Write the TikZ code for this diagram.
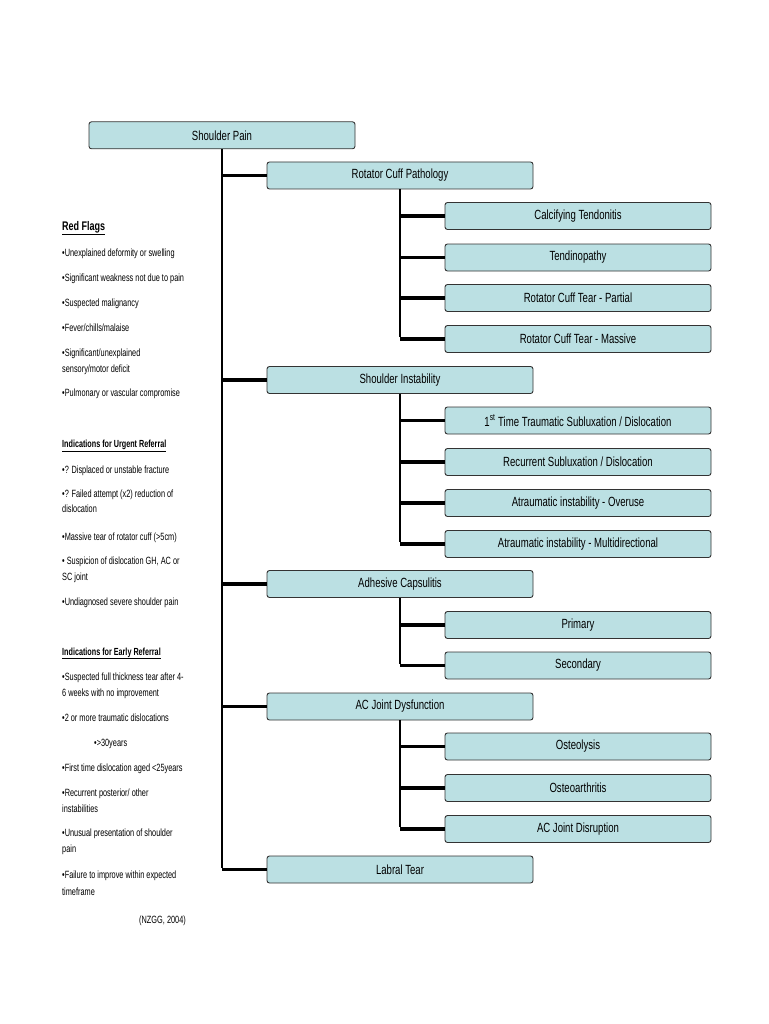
\documentclass[tikz,border=0pt]{standalone}
\usepackage{fontspec}
\setmainfont{Liberation Sans}[FakeStretch=0.72]
\newfontfamily\boxfont{Liberation Sans}[FakeStretch=0.72]
\newfontfamily\leftfont{Liberation Sans}[FakeStretch=0.70]
\definecolor{boxc}{HTML}{BBE0E3}
\definecolor{edgec}{HTML}{333333}
\begin{document}
\begin{tikzpicture}[x=1pt,y=-1pt,
  box/.style={draw=edgec, fill=boxc, rounded corners=2.5pt, line width=0.9pt,
    minimum width=266pt, minimum height=27pt, inner sep=0pt,
    font=\boxfont\fontsize{13.3}{15}\selectfont},
  vline/.style={line width=2pt, black},
  hline/.style={line width=3.6pt, black},
  txt/.style={anchor=base west, inner sep=0pt, font=\leftfont\fontsize{10.5}{12}\selectfont},
  head/.style={anchor=base west, inner sep=0pt, font=\leftfont\fontsize{10.3}{12}\selectfont\bfseries},
  bighead/.style={anchor=base west, inner sep=0pt, font=\boxfont\fontsize{12.5}{14}\selectfont\bfseries}]
\fill[white] (0,0) rectangle (768,1024);
\useasboundingbox (0,0) rectangle (768,1024);

% level 0
\node[box] (sp) at (222,135.3) {Shoulder Pain};
% level 1
\node[box] (rc) at (400,175.5) {Rotator Cuff Pathology};
\node[box] (si) at (400,380) {Shoulder Instability};
\node[box] (ad) at (400,584) {Adhesive Capsulitis};
\node[box] (ac) at (400,706.5) {AC Joint Dysfunction};
\node[box] (lt) at (400,869.5) {Labral Tear};
% level 2
\node[box] (rc1) at (578,216) {Calcifying Tendonitis};
\node[box] (rc2) at (578,257.5) {Tendinopathy};
\node[box] (rc3) at (578,298) {Rotator Cuff Tear - Partial};
\node[box] (rc4) at (578,339) {Rotator Cuff Tear - Massive};
\node[box] (si1) at (578,420.5) {1\textsuperscript{st} Time Traumatic Subluxation / Dislocation};
\node[box] (si2) at (578,462) {Recurrent Subluxation / Dislocation};
\node[box] (si3) at (578,503) {Atraumatic instability - Overuse};
\node[box] (si4) at (578,544) {Atraumatic instability - Multidirectional};
\node[box] (ad1) at (578,625) {Primary};
\node[box] (ad2) at (578,665.5) {Secondary};
\node[box] (ac1) at (578,746.5) {Osteolysis};
\node[box] (ac2) at (578,788) {Osteoarthritis};
\node[box] (ac3) at (578,829) {AC Joint Disruption};

% main trunk
\draw[vline] (sp.south) -- ([yshift=1.8pt]sp.south |- lt.west);
\foreach \n in {rc,si,ad,ac,lt}
  \draw[hline] (sp.south |- \n.west) -- (\n.west);
% sub trunks
\draw[vline] (rc.south) -- ([yshift=1.8pt]rc.south |- rc4.west);
\foreach \n in {rc1,rc2,rc3,rc4}
  \draw[hline] (rc.south |- \n.west) -- (\n.west);
\draw[vline] (si.south) -- ([yshift=1.8pt]si.south |- si4.west);
\foreach \n in {si1,si2,si3,si4}
  \draw[hline] (si.south |- \n.west) -- (\n.west);
\draw[vline] (ad.south) -- ([yshift=1.8pt]ad.south |- ad2.west);
\foreach \n in {ad1,ad2}
  \draw[hline] (ad.south |- \n.west) -- (\n.west);
\draw[vline] (ac.south) -- ([yshift=1.8pt]ac.south |- ac3.west);
\foreach \n in {ac1,ac2,ac3}
  \draw[hline] (ac.south |- \n.west) -- (\n.west);

% left column
\node[bighead] (h1) at (62,230.5) {\underline{Red Flags}};
\node[txt] (r1) at (62,256.7) {•Unexplained deformity or swelling};
\node[txt] (r2) at (62,281.7) {•Significant weakness not due to pain};
\node[txt] (r3) at (62,306) {•Suspected malignancy};
\node[txt] (r4) at (62,331.5) {•Fever/chills/malaise};
\node[txt] (r5) at (62,356.7) {•Significant/unexplained};
\node[txt] (r5b) at (62,372.7) {sensory/motor deficit};
\node[txt] (r6) at (62,396.7) {•Pulmonary or vascular compromise};

\node[head] (h2) at (62,447.3) {\underline{Indications for Urgent Referral}};
\node[txt] (u1) at (62,473.3) {•? Displaced or unstable fracture};
\node[txt] (u2) at (62,497.3) {•? Failed attempt (x2) reduction of};
\node[txt] (u2b) at (62,512.7) {dislocation};
\node[txt] (u3) at (62,540) {•Massive tear of rotator cuff (>5cm)};
\node[txt] (u4) at (62,564) {• Suspicion of dislocation GH, AC or};
\node[txt] (u4b) at (62,580) {SC joint};
\node[txt] (u5) at (62,605) {•Undiagnosed severe shoulder pain};

\node[head] (h3) at (62,655) {\underline{Indications for Early Referral}};
\node[txt] (e1) at (62,680) {•Suspected full thickness tear after 4-};
\node[txt] (e1b) at (62,696) {6 weeks with no improvement};
\node[txt] (e2) at (62,721.7) {•2 or more traumatic dislocations};
\node[txt] (e3) at (94,746.7) {•>30years};
\node[txt] (e4) at (62,771.7) {•First time dislocation aged <25years};
\node[txt] (e5) at (62,796.7) {•Recurrent posterior/ other};
\node[txt] (e5b) at (62,812.7) {instabilities};
\node[txt] (e6) at (62,836.7) {•Unusual presentation of shoulder};
\node[txt] (e6b) at (62,852) {pain};
\node[txt] (e7) at (62,878.3) {•Failure to improve within expected};
\node[txt] (e7b) at (62,895) {timeframe};
\node[txt, anchor=base east] (ref) at (186,923) {(NZGG, 2004)};
\end{tikzpicture}
\end{document}
